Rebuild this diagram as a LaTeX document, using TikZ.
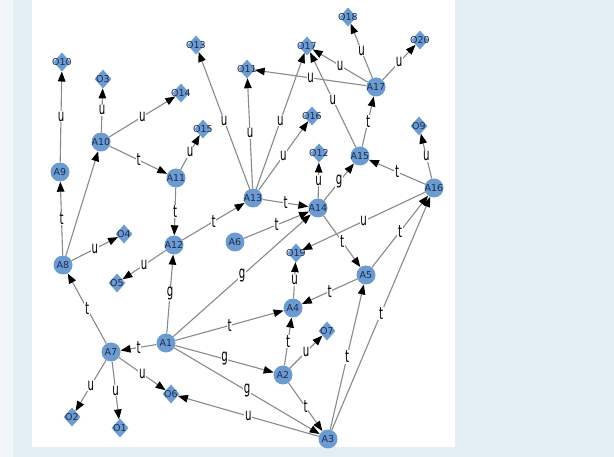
\documentclass[tikz,border=0pt]{standalone}
\usepackage{fontspec}
\setmainfont{DejaVu Sans}
\newfontfamily\lblfont[FakeStretch=0.6]{DejaVu Sans}
\usetikzlibrary{shapes.geometric,arrows.meta}
\definecolor{bgblue}{HTML}{E4EFF3}
\definecolor{bglight}{HTML}{F1F6F8}
\definecolor{nodeblue}{HTML}{6C9BD2}
\definecolor{nodetext}{HTML}{1C2C4C}
\definecolor{edgegray}{HTML}{8A8A8A}
\tikzset{
  anode/.style={circle,fill=nodeblue,draw=none,minimum size=19pt,inner sep=0pt,
    label={[text=nodetext,font=\fontsize{9.5}{10}\selectfont,inner sep=0pt]center:#1}},
  onode/.style={diamond,fill=nodeblue,draw=none,minimum width=17pt,minimum height=19pt,inner sep=0pt,
    label={[text=nodetext,font=\fontsize{9.5}{10}\selectfont,inner sep=0pt]center:#1}},
  edg/.style={draw=edgegray,line width=1.1pt,
    -{Triangle[length=10pt,width=7.5pt,color=black]}},
  lbl/.style={midway,fill=white,inner sep=0.6pt,text=black,
    font=\lblfont\fontsize{17}{17}\selectfont}
}
\begin{document}
\begin{tikzpicture}[x=1pt,y=-1pt]
\useasboundingbox (0,0) rectangle (614,457);
\fill[bgblue] (0,0) rectangle (614,457);
\fill[bglight] (0,0) rectangle (13,457);
\fill[white] (32,0) rectangle (455,447);
% A nodes
\node[anode=A1] (A1) at (166,343) {};
\node[anode=A2] (A2) at (283,375) {};
\node[anode=A3] (A3) at (328,439) {};
\node[anode=A4] (A4) at (293,308) {};
\node[anode=A5] (A5) at (366,275) {};
\node[anode=A6] (A6) at (235,242) {};
\node[anode=A7] (A7) at (111,352) {};
\node[anode=A8] (A8) at (63,265) {};
\node[anode=A9] (A9) at (60,172) {};
\node[anode=A10] (A10) at (101,142) {};
\node[anode=A11] (A11) at (176,178) {};
\node[anode=A12] (A12) at (174,245) {};
\node[anode=A13] (A13) at (253,198) {};
\node[anode=A14] (A14) at (318,208) {};
\node[anode=A15] (A15) at (360,156) {};
\node[anode=A16] (A16) at (434,188) {};
\node[anode=A17] (A17) at (376,87) {};
% O nodes
\node[onode=O1] (O1) at (120,428) {};
\node[onode=O2] (O2) at (72,417) {};
\node[onode=O3] (O3) at (103,79) {};
\node[onode=O4] (O4) at (124,234) {};
\node[onode=O5] (O5) at (117,283) {};
\node[onode=O6] (O6) at (171,394) {};
\node[onode=O7] (O7) at (327,331) {};
\node[onode=O9] (O9) at (419,126) {};
\node[onode=O10] (O10) at (62,62) {};
\node[onode=O11] (O11) at (247,69) {};
\node[onode=O12] (O12) at (319,153) {};
\node[onode=O13] (O13) at (196,45) {};
\node[onode=O14] (O14) at (181,93) {};
\node[onode=O15] (O15) at (203,129) {};
\node[onode=O16] (O16) at (312,116) {};
\node[onode=O17] (O17) at (307,46) {};
\node[onode=O18] (O18) at (348,17) {};
\node[onode=O19] (O19) at (296,253) {};
\node[onode=O20] (O20) at (420,40) {};
% edges
\draw[edg] (A9) -- node[lbl]{u} (O10);
\draw[edg] (A10) -- node[lbl]{u} (O3);
\draw[edg] (A10) -- node[lbl]{u} (O14);
\draw[edg] (A10) -- node[lbl]{t} (A11);
\draw[edg] (A11) -- node[lbl]{u} (O15);
\draw[edg] (A11) -- node[lbl]{t} (A12);
\draw[edg] (A8) -- node[lbl]{t} (A9);
\draw[edg] (A8) -- (A10);
\draw[edg] (A8) -- node[lbl]{u} (O4);
\draw[edg] (A12) -- node[lbl]{u} (O5);
\draw[edg] (A12) -- node[lbl]{t} (A13);
\draw[edg] (A7) -- node[lbl]{t} (A8);
\draw[edg] (A1) -- node[lbl]{t} (A7);
\draw[edg] (A1) -- node[lbl]{g} (A12);
\draw[edg] (A1) -- node[lbl]{g} (A14);
\draw[edg] (A1) -- node[lbl]{t} (A4);
\draw[edg] (A1) -- node[lbl]{g} (A2);
\draw[edg] (A1) -- node[lbl]{g} (A3);
\draw[edg] (A7) -- node[lbl]{u} (O2);
\draw[edg] (A7) -- node[lbl]{u} (O1);
\draw[edg] (A7) -- node[lbl]{u} (O6);
\draw[edg] (A3) -- node[lbl]{u} (O6);
\draw[edg] (A2) -- node[lbl]{t} (A4);
\draw[edg] (A2) -- node[lbl]{u} (O7);
\draw[edg] (A2) -- node[lbl]{t} (A3);
\draw[edg] (A3) -- node[lbl]{t} (A5);
\draw[edg] (A3) -- node[lbl]{t} (A16);
\draw[edg] (A5) -- node[lbl]{t} (A4);
\draw[edg] (A5) -- node[lbl]{t} (A16);
\draw[edg] (A4) -- node[lbl]{u} (O19);
\draw[edg] (A14) -- node[lbl]{t} (A5);
\draw[edg] (A16) -- node[lbl]{u} (O19);
\draw[edg] (A6) -- node[lbl]{t} (A14);
\draw[edg] (A13) -- node[lbl]{t} (A14);
\draw[edg] (A13) -- node[lbl]{u} (O13);
\draw[edg] (A13) -- node[lbl]{u} (O11);
\draw[edg] (A13) -- node[lbl]{u} (O17);
\draw[edg] (A13) -- node[lbl]{u} (O16);
\draw[edg] (A14) -- node[lbl]{u} (O12);
\draw[edg] (A14) -- node[lbl]{g} (A15);
\draw[edg] (A16) -- node[lbl]{t} (A15);
\draw[edg] (A16) -- node[lbl]{u} (O9);
\draw[edg] (A15) -- node[lbl]{t} (A17);
\draw[edg] (A15) -- node[lbl]{u} (O17);
\draw[edg] (A17) -- node[lbl]{u} (O11);
\draw[edg] (A17) -- node[lbl]{u} (O17);
\draw[edg] (A17) -- node[lbl]{u} (O18);
\draw[edg] (A17) -- node[lbl]{u} (O20);
\end{tikzpicture}
\end{document}
